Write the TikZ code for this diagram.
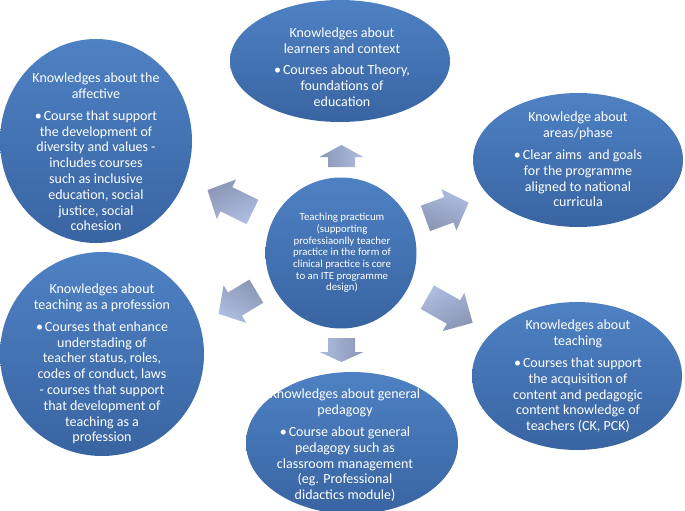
\documentclass[tikz,border=0pt]{standalone}
\usepackage{fontspec}
\setmainfont{Carlito}
\usetikzlibrary{shapes.geometric}
\definecolor{blobtop}{RGB}{78,129,195}
\definecolor{blobbot}{RGB}{57,100,162}
\definecolor{arrtop}{RGB}{174,189,224}
\definecolor{arrbot}{RGB}{138,150,180}
\newcommand\bul{•\kern2pt}
\tikzset{
  blob/.style={ellipse, inner sep=0pt, top color=blobtop, bottom color=blobbot, draw=none},
  txt/.style={text=white, align=center, font=\fontsize{14}{15.8}\selectfont, inner sep=0pt},
  ctxt/.style={text=white, align=center, font=\fontsize{10.8}{11.7}\selectfont, inner sep=0pt},
  arrowfill/.style={top color=arrtop, bottom color=arrbot, draw=none},
}
\newcommand\blockarrow[5]{%
  \begin{scope}[shift={(#2)}, rotate=#3]
    \coordinate (#1) at (0,0);
    \shade[arrowfill, shading angle=-#3] ({-#4/2},-13.5) -- ({#4/2-#5},-13.5) -- ({#4/2-#5},-22) -- ({#4/2},0) -- ({#4/2-#5},22) -- ({#4/2-#5},13.5) -- ({-#4/2},13.5) -- cycle;
  \end{scope}}
\begin{document}
\begin{tikzpicture}[x=1pt,y=-1pt]
\useasboundingbox (0,0) rectangle (685,511);

% outer ellipses
\node[blob, minimum width=220pt, minimum height=122pt] (learn) at (340,61) {};
\node[blob, minimum width=192pt, minimum height=204pt] (affect) at (96,141) {};
\node[blob, minimum width=210pt, minimum height=134pt] (areas) at (578,160) {};
\node[blob, minimum width=204pt, minimum height=204pt] (prof) at (102,354) {};
\node[blob, minimum width=210pt, minimum height=148pt] (teach) at (577,376) {};
\node[blob, minimum width=212pt, minimum height=142pt] (ped) at (352,443) {};
\node[blob, minimum width=151pt, minimum height=151pt] (core) at (341,253) {};

% texts
\node[txt] (learnT) at (342,67) {Knowledges about\\learners and context\\[6pt]\bul Courses about Theory,\\foundations of\\education};
\node[txt] (affectT) at (96,152) {Knowledges about the\\affective\\[6pt]\bul Course that support\\the development of\\diversity and values -\\includes courses\\such as inclusive\\education, social\\justice, social\\cohesion};
\node[txt] (areasT) at (578,159.5) {Knowledge about\\areas/phase\\[6pt]\bul Clear aims~ and goals\\for the programme\\aligned to national\\curricula};
\node[txt] (profT) at (102,364) {Knowledges about\\teaching as a profession\\[6pt]\bul Courses that enhance\\understading of\\teacher status, roles,\\codes of conduct, laws\\- courses that support\\that development of\\teaching as a\\profession};
\node[txt] (teachT) at (578,376.5) {Knowledges about\\teaching\\[6pt]\bul Courses that support\\the acquisition of\\content and pedagogic\\content knowledge of\\teachers (CK, PCK)};
\node[txt] (pedT) at (345,445.5) {Knowledges about general\\pedagogy\\[6pt]\bul Course about general\\pedagogy such as\\classroom management\\(eg. Professional\\didactics module)};
\node[ctxt] (coreT) at (342,253) {Teaching practicum\\(supporting\\professiaonlly teacher\\practice in the form of\\clinical practice is core\\to an ITE programme\\design)};

% block arrows
\blockarrow{aup}{341.5,156}{90}{22}{12}
\blockarrow{adown}{341.5,350}{270}{24}{10}
\blockarrow{aul}{230,201}{154}{50}{21}
\blockarrow{aur}{447,210.5}{20}{46}{21}
\blockarrow{all}{237.5,302.5}{211}{44}{19}
\blockarrow{alr}{450,310}{-29.5}{52}{22}
\end{tikzpicture}
\end{document}
